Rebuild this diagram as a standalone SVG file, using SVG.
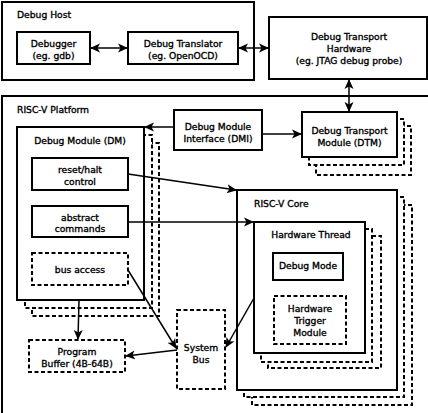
<svg xmlns="http://www.w3.org/2000/svg" width="428" height="413" viewBox="0 0 428 413">
<style>
  .box{fill:#fff;stroke:#000;stroke-width:2}
  .outer{fill:#fff;stroke:#000;stroke-width:2}
  .dash{fill:#fff;stroke:#000;stroke-width:2;stroke-dasharray:4 2.5}
  .t{font-family:"DejaVu Sans",sans-serif;font-size:9.2px;fill:#000;stroke:#000;stroke-width:0.35;text-anchor:middle;dominant-baseline:central}
  .tl{text-anchor:start}
  .c{fill:none;stroke:#000;stroke-width:1.5}
</style>
<defs>
  <marker id="ah" viewBox="0 0 10 10" refX="9" refY="5" markerWidth="10" markerHeight="10" markerUnits="userSpaceOnUse" orient="auto-start-reverse">
    <path d="M0,0.5 L10,5 L0,9.5 L2.5,5 Z" fill="#000"/>
  </marker>
</defs>
<rect width="428" height="413" fill="#fff"/>

<g id="debug-host">
  <rect class="outer" x="2" y="2" width="252" height="78"/>
  <text class="t tl" x="17" y="14">Debug Host</text>
</g>
<g id="debugger">
  <rect class="box" x="17" y="32" width="73" height="32"/>
  <text class="t" x="53.5" y="43">Debugger</text>
  <text class="t" x="53.5" y="55">(eg. gdb)</text>
</g>
<g id="debug-translator">
  <rect class="box" x="128" y="32" width="110" height="32"/>
  <text class="t" x="183" y="43">Debug Translator</text>
  <text class="t" x="183" y="55">(eg. OpenOCD)</text>
</g>
<g id="debug-transport-hardware">
  <rect class="box" x="269" y="17" width="158" height="62"/>
  <text class="t" x="349" y="36">Debug Transport</text>
  <text class="t" x="349" y="48">Hardware</text>
  <text class="t" x="349" y="60">(eg. JTAG debug probe)</text>
</g>

<g id="risc-v-platform">
  <rect class="outer" x="2" y="96" width="432" height="322"/>
  <text class="t tl" x="17" y="109">RISC-V Platform</text>
</g>

<g id="dmi">
  <rect class="box" x="174" y="110" width="88" height="40"/>
  <text class="t" x="218" y="126">Debug Module</text>
  <text class="t" x="218" y="138">Interface (DMI)</text>
</g>

<g id="dtm">
  <rect class="dash" x="316" y="126" width="95" height="49"/>
  <rect class="dash" x="309" y="119" width="95" height="46"/>
  <rect class="box" x="302" y="112" width="95" height="45"/>
  <text class="t" x="349.5" y="130">Debug Transport</text>
  <text class="t" x="349.5" y="142">Module (DTM)</text>
</g>

<g id="debug-module">
  <rect class="dash" x="32" y="143" width="127" height="173"/>
  <rect class="dash" x="25" y="135" width="127" height="173"/>
  <rect class="box" x="17" y="127" width="127" height="173"/>
  <text class="t" x="80" y="140">Debug Module (DM)</text>
</g>
<g id="reset-halt-control">
  <rect class="box" x="32" y="158" width="96" height="32"/>
  <text class="t" x="80" y="169">reset/halt</text>
  <text class="t" x="80" y="181">control</text>
</g>
<g id="abstract-commands">
  <rect class="box" x="32" y="206" width="96" height="31"/>
  <text class="t" x="80" y="217">abstract</text>
  <text class="t" x="80" y="228">commands</text>
</g>
<g id="bus-access">
  <rect class="dash" x="32" y="253" width="96" height="32"/>
  <text class="t" x="80" y="269">bus access</text>
</g>
<g id="program-buffer">
  <rect class="dash" x="29" y="340" width="96" height="32"/>
  <text class="t" x="77" y="351">Program</text>
  <text class="t" x="77" y="363">Buffer (4B-64B)</text>
</g>
<g id="system-bus">
  <rect class="dash" x="177" y="310" width="48" height="79"/>
  <text class="t" x="201" y="347">System</text>
  <text class="t" x="201" y="359">Bus</text>
</g>

<g id="risc-v-core">
  <rect class="dash" x="252" y="205" width="160" height="200"/>
  <rect class="dash" x="244" y="197" width="160" height="200"/>
  <rect class="box" x="237" y="190" width="160" height="200"/>
  <text class="t tl" x="254" y="203">RISC-V Core</text>
</g>
<g id="hardware-thread">
  <rect class="dash" x="268" y="236" width="113" height="132"/>
  <rect class="dash" x="261" y="229" width="111" height="133"/>
  <rect class="box" x="254" y="222" width="111" height="131"/>
  <text class="t" x="311" y="234">Hardware Thread</text>
</g>
<g id="debug-mode">
  <rect class="box" x="273" y="253" width="70" height="27"/>
  <text class="t" x="308" y="265">Debug Mode</text>
</g>
<g id="hardware-trigger-module">
  <rect class="dash" x="274" y="296" width="72" height="48"/>
  <text class="t" x="310" y="308">Hardware</text>
  <text class="t" x="310" y="320">Trigger</text>
  <text class="t" x="310" y="332">Module</text>
</g>

<g id="connectors">
  <line class="c" x1="91" y1="48" x2="127" y2="48" marker-start="url(#ah)" marker-end="url(#ah)"/>
  <line class="c" x1="239" y1="48" x2="268" y2="48" marker-start="url(#ah)" marker-end="url(#ah)"/>
  <line class="c" x1="349" y1="80" x2="349" y2="111" marker-start="url(#ah)" marker-end="url(#ah)"/>
  <line class="c" x1="262" y1="134" x2="301" y2="134" marker-end="url(#ah)"/>
  <line class="c" x1="174" y1="127" x2="145" y2="127" marker-end="url(#ah)"/>
  <line class="c" x1="128" y1="174" x2="236" y2="190" marker-end="url(#ah)"/>
  <line class="c" x1="128" y1="222" x2="253" y2="222" marker-end="url(#ah)"/>
  <line class="c" x1="79" y1="300" x2="78" y2="339" marker-end="url(#ah)"/>
  <line class="c" x1="128" y1="270" x2="176" y2="348" marker-end="url(#ah)"/>
  <line class="c" x1="177" y1="350" x2="126" y2="356" marker-end="url(#ah)"/>
  <line class="c" x1="254" y1="298" x2="226" y2="347" marker-end="url(#ah)"/>
</g>
</svg>
